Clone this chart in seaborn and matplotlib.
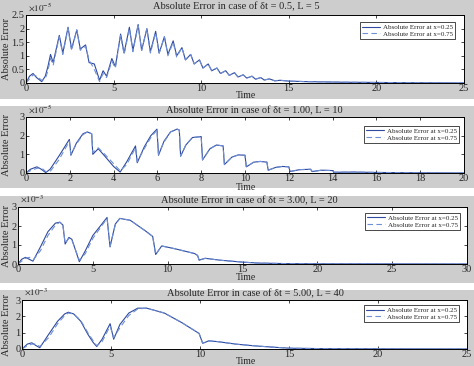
import seaborn as sns
import matplotlib.pyplot as plt
from matplotlib.patches import Rectangle


# Data (errors in units of the 10^-x factor shown on each panel)
t1 = [0, 0.2, 0.4, 0.6, 0.9, 1.1, 1.25, 1.4, 1.55, 1.9, 2.1, 2.4, 2.6, 2.9, 3.1, 3.4, 3.6, 3.9, 4.2, 4.4,
      4.6, 4.9, 5.1, 5.4, 5.6, 5.9, 6.1, 6.4, 6.6, 6.9, 7.1, 7.4, 7.6, 7.9, 8.1, 8.4, 8.6, 8.9, 9.1, 9.4,
      9.6, 9.9, 10.1, 10.4, 10.6, 10.9, 11.1, 11.4, 11.6, 11.9, 12.1, 12.4, 12.6, 12.9, 13.1, 13.4, 13.6,
      13.9, 14.2, 14.5, 15, 16, 18, 20, 22, 25]
e1_a = [0, 0.25, 0.35, 0.2, 0.05, 0.25, 0.6, 1.05, 0.75, 1.75, 1.1, 2.05, 1.25, 1.95, 1.25, 1.4, 0.75, 0.7, 0.1, 0.45,
        0.25, 0.9, 0.6, 1.8, 1.1, 2.05, 1.2, 2.15, 1.2, 2.0, 1.15, 1.9, 1.1, 1.7, 1.05, 1.55, 1.0, 1.3, 0.85, 1.05,
        0.7, 0.85, 0.55, 0.7, 0.45, 0.55, 0.35, 0.45, 0.28, 0.38, 0.22, 0.3, 0.18, 0.25, 0.14, 0.2, 0.11,
        0.15, 0.08, 0.1, 0.07, 0.05, 0.03, 0.02, 0.01, 0]
e1_b = [0, 0.15, 0.3, 0.25, 0.1, 0.15, 0.45, 0.9, 0.65, 1.7, 1.05, 2.0, 1.2, 1.95, 1.2, 1.35, 0.85, 0.5, 0.05, 0.35,
        0.2, 0.8, 0.55, 1.75, 1.05, 2.0, 1.15, 2.1, 1.2, 2.0, 1.1, 1.85, 1.1, 1.7, 1.0, 1.5, 0.95, 1.3, 0.85, 1.05,
        0.7, 0.85, 0.55, 0.7, 0.45, 0.55, 0.35, 0.45, 0.28, 0.38, 0.22, 0.3, 0.18, 0.25, 0.14, 0.2, 0.11,
        0.15, 0.08, 0.1, 0.07, 0.05, 0.03, 0.02, 0.01, 0]

t2 = [0, 0.2, 0.5, 0.7, 0.9, 1.1, 1.5, 1.98, 2.05, 2.3, 2.6, 2.8, 3.0, 3.05, 3.3, 3.6, 4.0, 4.3, 4.6, 5.0,
      5.08, 5.4, 5.7, 5.98, 6.05, 6.3, 6.6, 6.9, 7.0, 7.06, 7.3, 7.6, 8.0, 8.06, 8.4, 8.7, 9.0, 9.06, 9.4, 9.7,
      10.0, 10.06, 10.4, 10.7, 11.0, 11.06, 11.4, 11.7, 12.0, 12.06, 12.5, 13.0, 13.06, 13.5, 14.0, 14.06,
      15, 16, 17, 18, 20]
e2_a = [0, 0.2, 0.33, 0.2, 0.02, 0.2, 0.9, 1.8, 0.95, 1.6, 2.1, 2.2, 2.1, 1.0, 1.3, 0.9, 0.35, 0.05, 0.6, 1.45,
        0.55, 1.4, 2.0, 2.35, 0.95, 1.7, 2.2, 2.35, 2.3, 0.9, 1.5, 1.9, 1.95, 0.7, 1.3, 1.5, 1.45, 0.45, 0.85, 0.97,
        0.95, 0.33, 0.58, 0.62, 0.58, 0.15, 0.3, 0.35, 0.33, 0.08, 0.18, 0.2, 0.08, 0.15, 0.13, 0.04,
        0.05, 0.03, 0.02, 0.01, 0]
e2_b = [0, 0.12, 0.25, 0.28, 0.08, 0.08, 0.7, 1.7, 1.0, 1.55, 2.05, 2.2, 2.1, 1.1, 1.35, 1.0, 0.5, 0.12, 0.45, 1.35,
        0.6, 1.3, 1.9, 2.3, 1.0, 1.65, 2.2, 2.35, 2.3, 0.9, 1.5, 1.9, 1.95, 0.7, 1.3, 1.5, 1.45, 0.45, 0.85, 0.97,
        0.95, 0.33, 0.58, 0.62, 0.58, 0.15, 0.3, 0.35, 0.33, 0.08, 0.18, 0.2, 0.08, 0.15, 0.13, 0.04,
        0.05, 0.03, 0.02, 0.01, 0]

t3 = [0, 0.25, 0.5, 0.75, 1.0, 1.5, 2.0, 2.5, 2.8, 3.0, 3.15, 3.4, 3.6, 4.1, 4.5, 5.0, 5.5, 5.95, 6.15, 6.5,
      6.8, 7.5, 8.5, 9.0, 9.2, 9.6, 10.5, 11.8, 12.0, 12.1, 12.5, 13.5, 15, 16, 18, 20, 25, 30]
e3_a = [0, 0.25, 0.35, 0.25, 0.15, 0.9, 1.7, 2.15, 2.2, 2.05, 1.05, 1.4, 1.3, 0.12, 0.7, 1.5, 2.0, 2.45, 0.9, 2.1,
        2.4, 2.3, 1.75, 1.45, 0.5, 0.95, 0.8, 0.55, 0.45, 0.2, 0.3, 0.2, 0.1, 0.05, 0.02, 0.01, 0.005, 0]
e3_b = [0, 0.15, 0.3, 0.35, 0.2, 0.7, 1.5, 2.05, 2.2, 2.05, 1.1, 1.35, 1.25, 0.2, 0.55, 1.35, 1.9, 2.4, 0.95, 2.05,
        2.4, 2.3, 1.75, 1.45, 0.5, 0.95, 0.8, 0.55, 0.45, 0.2, 0.3, 0.2, 0.1, 0.05, 0.02, 0.01, 0.005, 0]

t4 = [0, 0.3, 0.55, 0.8, 1.0, 1.5, 2.0, 2.4, 2.6, 2.9, 3.3, 3.7, 4.0, 4.2, 4.5, 4.95, 5.15, 5.5, 6.0, 6.5,
      7.0, 8.0, 9.0, 9.95, 10.15, 10.5, 11.0, 12.0, 13.0, 14.0, 15.0, 17.0, 20.0, 25.0]
e4_a = [0, 0.3, 0.38, 0.2, 0.08, 0.9, 1.7, 2.15, 2.25, 2.15, 1.7, 0.9, 0.4, 0.15, 0.6, 1.55, 0.6, 1.5, 2.2, 2.5,
        2.5, 2.2, 1.6, 0.95, 0.35, 0.5, 0.45, 0.3, 0.2, 0.12, 0.05, 0.02, 0.01, 0]
e4_b = [0, 0.2, 0.3, 0.3, 0.15, 0.7, 1.55, 2.05, 2.2, 2.15, 1.75, 1.0, 0.5, 0.2, 0.45, 1.4, 0.7, 1.3, 2.05, 2.45,
        2.5, 2.2, 1.6, 0.95, 0.35, 0.5, 0.45, 0.3, 0.2, 0.12, 0.05, 0.02, 0.01, 0]

titles = ["Absolute Error in case of δt = 0.5, L = 5",
          "Absolute Error in case of δt = 1.00, L = 10",
          "Absolute Error in case of δt = 3.00, L = 20",
          "Absolute Error in case of δt = 5.00, L = 40"]
exponents = ["-5", "-5", "-3", "-3"]
x_max = [25, 20, 30, 25]
x_step = [5, 2, 5, 5]
y_max = [2.5, 3, 3, 3]
y_step = [0.5, 1, 1, 1]
legend_labels = ["Absolute Error at x=0.25", "Absolute Error at x=0.75"]

series = [(t1, e1_a, e1_b), (t2, e2_a, e2_b), (t3, e3_a, e3_b), (t4, e4_a, e4_b)]

# Style
sns.set_style("ticks")
plt.rcParams["font.family"] = ["Liberation Serif", "DejaVu Serif"]
plt.rcParams["mathtext.fontset"] = "stix"

W, H = 474, 366
fig = plt.figure(figsize=(W / 100, H / 100), dpi=100)
fig.patch.set_facecolor("white")

# layout in pixels: gray band (top, bottom), axes (left, top, right, bottom), title x, title y, xlabel y, legend anchor
layout = [
    ((0, 99), (26, 15, 464, 83), 236, 7, 95, (0.979, 0.897)),
    ((106, 188), (26, 117, 464, 173), 254, 111, 187, (0.989, 0.842)),
    ((196, 283), (18, 207, 467, 264), 249, 201, 278, (0.984, 0.895)),
    ((290, 366), (22, 300, 467, 349), 255, 294, 362, (0.982, 0.898)),
]

c_solid = "#2f4a9e"
c_dash = "#6f8fd6"

for i, (t, ea, eb) in enumerate(series):
    (gt, gb), (l, top, r, b), tx, ty, xly, anchor = layout[i]

    band = Rectangle((0, 1 - gb / H), 1, (gb - gt) / H, transform=fig.transFigure,
                     facecolor="#cdcdcd", edgecolor="none", zorder=-10)
    fig.add_artist(band)

    ax = fig.add_axes([l / W, 1 - b / H, (r - l) / W, (b - top) / H])
    ax.set_zorder(1)
    ax.set_facecolor("white")

    sns.lineplot(x=t, y=ea, ax=ax, color=c_solid, lw=0.8, label=legend_labels[0],
                 estimator=None, sort=False)
    sns.lineplot(x=t, y=eb, ax=ax, color=c_dash, lw=0.8, linestyle=(0, (5, 3)),
                 label=legend_labels[1], estimator=None, sort=False)

    ax.set_xlim(0, x_max[i])
    ax.set_ylim(0, y_max[i])
    xt = [k * x_step[i] for k in range(int(x_max[i] / x_step[i]) + 1)]
    yt = [k * y_step[i] for k in range(int(round(y_max[i] / y_step[i])) + 1)]
    ax.set_xticks(xt)
    ax.set_xticklabels([f"{v:g}" for v in xt])
    ax.set_yticks(yt)
    ax.set_yticklabels([f"{v:g}" for v in yt])
    ax.tick_params(direction="in", top=True, right=True, labelsize=7.5, length=2.5, width=0.6, pad=1)
    for s in ax.spines.values():
        s.set_linewidth(0.7)
        s.set_color("black")
    ax.set_xlabel("")
    ax.set_ylabel("")

    leg = ax.legend(loc="upper right", bbox_to_anchor=anchor, borderaxespad=0, fontsize=5,
                    frameon=True, fancybox=False, edgecolor="black", framealpha=1,
                    borderpad=0.3, labelspacing=0.15, handlelength=2.6, handletextpad=0.4)
    leg.get_frame().set_linewidth(0.5)

    fig.text(tx / W, 1 - ty / H, titles[i], ha="center", va="center", fontsize=7.5, zorder=2)
    fig.text(246 / W, 1 - xly / H, "Time", ha="center", va="center", fontsize=7, zorder=2)
    fig.text(7 / W, 1 - (top + b) / 2 / H, "Absolute Error", rotation=90,
             ha="center", va="center", fontsize=7.5, zorder=2)
    fig.text((l + 2) / W, 1 - (top - 8) / H, r"$\times10^{" + exponents[i] + "}$",
             ha="left", va="center", fontsize=6.5, zorder=2)

fig.savefig("out.png", dpi=100)
